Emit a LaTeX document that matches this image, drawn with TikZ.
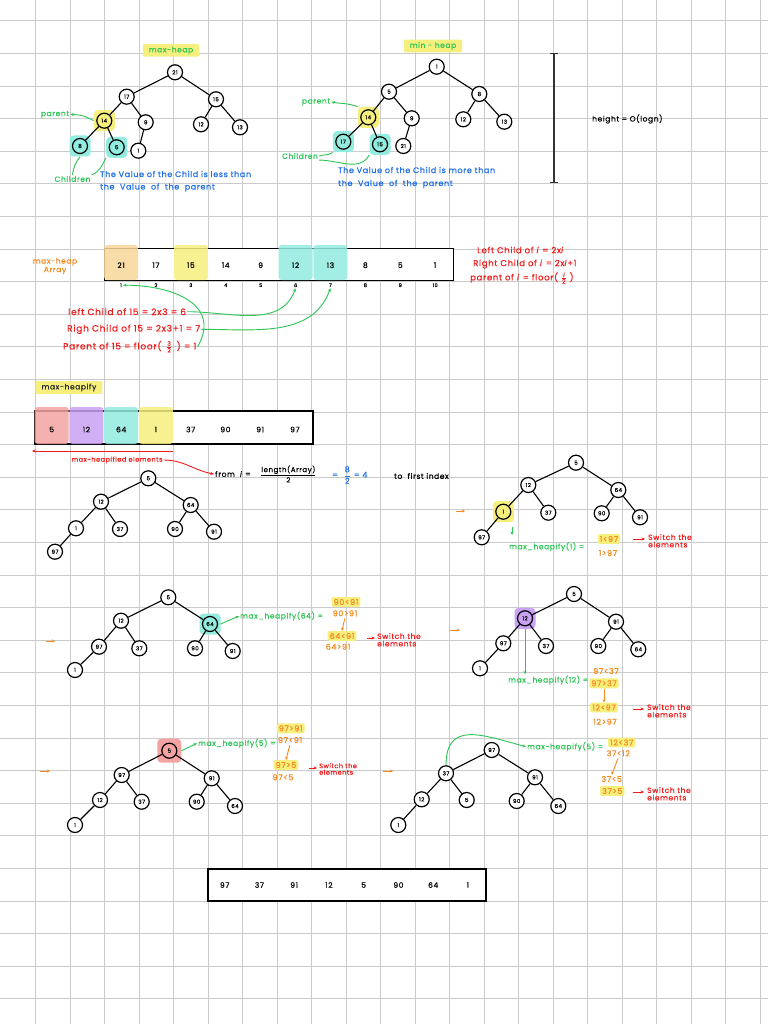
\documentclass[tikz,border=0pt]{standalone}
\usepackage{amsmath}
\usepackage{fontspec}
\setmainfont{Poppins}[LetterSpace=8, FakeBold=0.5]
\usepackage{tikz}
\usetikzlibrary{arrows.meta, positioning, calc, backgrounds}
\definecolor{hlyellow}{HTML}{F6EF7E}
\definecolor{hlcyan}{HTML}{93ECE0}
\definecolor{hlorange}{HTML}{F7D899}
\definecolor{hlred}{HTML}{F4A3A3}
\definecolor{hlpurple}{HTML}{C9A2F3}
\definecolor{greenpen}{HTML}{2BC653}
\definecolor{bluepen}{HTML}{1F6FEA}
\definecolor{redpen}{HTML}{F11B1B}
\definecolor{orangepen}{HTML}{F58A1F}
\definecolor{gridgray}{HTML}{CBCBCB}
\tikzset{
  every node/.style={font=\fontsize{7.5}{8.5}\selectfont, inner sep=1pt},
  gridline/.style={gridgray, line width=0.75pt},
  tn/.style={circle, draw, line width=1.2pt, fill=white, minimum size=15pt, inner sep=0pt, font=\fontsize{5.5}{5.5}\selectfont},
  glow/.style={fill=#1, rounded corners=4pt, minimum size=21pt, inner sep=0pt},
  link/.style={line width=1.1pt},
  arraybox/.style={draw, line width=1.4pt, fill=white, minimum height=32pt, inner sep=0pt},
  cellglow/.style={fill=#1, opacity=0.85, rounded corners=3pt, minimum width=34pt, minimum height=35pt, inner sep=0pt},
  cell/.style={font=\fontsize{7.5}{8}\selectfont},
  idx/.style={font=\fontsize{5}{5}\selectfont},
  tag/.style={fill=hlyellow, rounded corners=1pt, inner ysep=2.5pt, inner xsep=6pt},
  gtext/.style={text=greenpen},
  btext/.style={text=bluepen, font=\fontsize{8}{9}\selectfont, anchor=west},
  rtext/.style={text=redpen, font=\fontsize{9}{10}\selectfont, anchor=west},
  otext/.style={text=orangepen},
  cmp/.style={text=orangepen, font=\fontsize{8}{9}\selectfont},
  cmph/.style={cmp, fill=hlyellow, rounded corners=1.5pt, inner sep=2pt},
  swtext/.style={text=redpen, align=left, anchor=north west, font=\fontsize{7.5}{7.5}\selectfont},
  garrow/.style={-{Stealth[length=3.5pt,width=3pt]}, greenpen, line width=0.9pt},
  gline/.style={greenpen, line width=0.9pt},
  rarrow/.style={-{Stealth[length=3.5pt,width=3pt]}, redpen, line width=0.9pt},
  oarrow/.style={-{Stealth[length=3pt,width=3pt]}, orangepen, line width=0.9pt}
}

\begin{document}
\begin{tikzpicture}[x=1pt, y=-1pt]
    \useasboundingbox (0,0) rectangle (768,1024);
    \begin{scope}[on background layer]
      \fill[white] (0,0) rectangle (768,1024);
      \foreach \k in {1,...,22}
        \draw[gridline] ({1+34.5*\k},0) -- ({1+34.5*\k},1024);
      \foreach \k in {0,...,30}
        \draw[gridline] (0,{20.7+32.6*\k}) -- (768,{20.7+32.6*\k});
    \end{scope}

    % max-heap
    \node[tag, gtext] (maxlbl) at (171,50.5) {max-heap};
    \foreach \v/\x/\y/\col in {21/175/72.3/white, 17/126.7/96.7/white, 15/216/99.3/white, 14/104.3/120.7/hlyellow, 9/145.7/122.3/white, 12/201/124.3/white, 13/240/127.3/white, 8/80/146/hlcyan, 5/116.7/147.3/hlcyan, 1/138.3/150.7/white}
      \node[tn, fill=\col] (ta\v) at (\x,\y) {\v};
    \foreach \a/\b in {21/17, 21/15, 17/14, 17/9, 15/12, 15/13, 14/8, 14/5, 9/1}
      \draw[link] (ta\a) -- (ta\b);
    \begin{scope}[on background layer]
      \node[glow=hlyellow] (ta14g) at (ta14) {};
      \node[glow=hlcyan] (ta8g) at (ta8) {};
      \node[glow=hlcyan] (ta5g) at (ta5) {};
    \end{scope}
    \node[gtext] (parA) at (55,114.5) {parent};
    \node[gtext] (chA) at (72.5,179) {Children};
    \draw[garrow] (ta14g.west) to[bend right=15] (parA.east);
    \draw[gline] (chA.north) to[bend left=15] (ta8g.south);
    \draw[gline] (chA.north east) to[out=20, in=-120] (ta5g.south west);
    \node[btext] (lessA) at (99,174) {The Value of the Child is less than};
    \node[btext] (lessB) at (99,187.5) {the \ Value \ of \ the \ parent};

    % min-heap
    \node[tag, gtext] (minlbl) at (433,46) {min - heap};
    \foreach \v/\x/\y/\col in {1/436.7/66.7/white, 5/389/91.7/white, 8/479.3/94/white, 14/368.3/117.3/hlyellow, 9/411.7/118.3/white, 12/463.3/119.3/white, 13/504.3/121.7/white, 17/343.3/141.7/hlcyan, 15/380/144.3/hlcyan, 21/403.3/146/white}
      \node[tn, fill=\col] (tb\v) at (\x,\y) {\v};
    \foreach \a/\b in {1/5, 1/8, 5/14, 5/9, 8/12, 8/13, 14/17, 14/15, 9/21}
      \draw[link] (tb\a) -- (tb\b);
    \begin{scope}[on background layer]
      \node[glow=hlyellow] (tb14g) at (tb14) {};
      \node[glow=hlcyan] (tb17g) at (tb17) {};
      \node[glow=hlcyan] (tb15g) at (tb15) {};
    \end{scope}
    \node[gtext] (parB) at (316,102) {parent};
    \node[gtext] (chB) at (300,156) {Children};
    \draw[garrow] (tb14g.north west) to[out=160, in=-10] (parB.east);
    \draw[gline] (chB.east) to[out=20, in=-140] (tb17g.south west);
    \draw[gline] (chB.south east) to[out=0, in=-120] (tb15g.south west);
    \node[btext] (moreA) at (337,170) {The Value of the Child is more than};
    \node[btext] (moreB) at (337,184) {the \ Value \ of \ the \ parent};

    \coordinate (htop) at (554,52.7);
    \coordinate (hbot) at (554,183.3);
    \draw[{Bar[width=8pt]}-{Bar[width=8pt]}, line width=1.3pt, black!80] (htop) -- (hbot);
    \node[anchor=west] (hlabel) at (591,119) {height = O(logn)};

    % heap as array
    \node[otext, align=center] (arrlbl) at (55,266) {max-heap\\Array};
    \begin{scope}[on background layer]
      \node[arraybox, minimum width=349pt] (heaparr) at (278.8,264.2) {};
    \end{scope}
    \foreach \v [count=\i] in {21,17,15,14,9,12,13,8,5,1} {
      \node[cell] (heap\i) at ($(heaparr.west)+({34.9*\i-17.45},1)$) {\v};
      \node[idx] (hidx\i) at ($(heap\i)+(0,20)$) {\i};
    }
    \begin{scope}[on background layer]
      \foreach \i/\col in {1/hlorange, 3/hlyellow, 6/hlcyan, 7/hlcyan}
        \node[cellglow=\col] at ($(heap\i)+(0,-2.7)$) {};
    \end{scope}
    \node[rtext] (lc) at (67,311.7) {left Child of 15 = 2x3 = 6};
    \node[rtext] (rc) at (66,329.3) {Righ Child of 15 = 2x3+1 = 7};
    \node[rtext] (pc) at (62,346.7) {Parent of 15 = floor( \,$\frac{\text{3}}{\text{2}}$\, ) = 1};
    \draw[garrow] (lc.east) to[out=0, in=-110] (hidx6.south);
    \draw[garrow] (rc.east) to[out=0, in=-110] (hidx7.south);
    \draw[garrow] (pc.east) to[out=60, in=0, looseness=1.3] (hidx1.east);
    \node[rtext, font=\fontsize{8.5}{9.5}\selectfont] (flc) at (476,250) {Left Child of \textit{i} = 2x\textit{i}};
    \node[rtext, font=\fontsize{8.5}{9.5}\selectfont] (frc) at (472,264) {Right Child of \textit{i} = 2x\textit{i}+1};
    \node[rtext, font=\fontsize{8.5}{9.5}\selectfont] (fpc) at (469,278) {parent of \textit{i} = floor( $\frac{\textit{i}}{\text{2}}$ )};

    % max-heapify array
    \node[tag, text=black!85] (mhlbl) at (69,387.5) {max-heapify};
    \begin{scope}[on background layer]
      \node[arraybox, minimum width=278pt, minimum height=33pt] (inarr) at (174,427.5) {};
    \end{scope}
    \foreach \v [count=\i] in {5,12,64,1,37,90,91,97}
      \node[cell] (in\i) at ($(inarr.west)+({34.75*\i-17.375},2)$) {\v};
    \begin{scope}[on background layer]
      \foreach \i/\col in {1/hlred, 2/hlpurple, 3/hlcyan, 4/hlyellow}
        \node[cellglow=\col, minimum height=37pt] at ($(inarr.west)+({34.75*\i-17.375},-2)$) {};
    \end{scope}
    \coordinate (mhR) at (173,451);
    \coordinate (mhL) at (32,451);
    \draw[rarrow] (mhR) -- (mhL);
    \node[text=redpen, font=\fontsize{6.5}{7}\selectfont] (mhtxt) at (117,460) {max-heapified elements};
    \node[anchor=west, font=\fontsize{7.5}{8}\selectfont] (fromtxt) at (214,474) {from \ \textit{i} =};
    \node[anchor=west, font=\fontsize{7}{8}\selectfont] (fracA) at (259,474) {$\dfrac{\text{length(Array)}}{\text{2}}$};
    \node[anchor=west, text=bluepen, font=\fontsize{8}{9}\selectfont] (fracB) at (331,475) {= \ $\dfrac{\text{8}}{\text{2}}$ = 4};
    \node[anchor=west, font=\fontsize{7.5}{8}\selectfont] (firstidx) at (393,476) {to \ first index};
    \draw[rarrow] (mhtxt.east) to[out=0, in=170] (fromtxt.west);

    % tree of the array
    \foreach \v/\x/\y in {5/148.3/478.3, 12/101/501.7, 64/190.7/505, 1/76/528.3, 37/120/529, 90/175/529, 91/214/531.7, 97/55/551.7}
      \node[tn] (tc\v) at (\x,\y) {\v};
    \foreach \a/\b in {5/12, 5/64, 12/1, 12/37, 64/90, 64/91, 1/97}
      \draw[link] (tc\a) -- (tc\b);

    % max_heapify(1)
    \foreach \v/\x/\y/\col in {5/576/462.7/white, 12/528.3/485/white, 64/618.3/490/white, 1/503.3/511.7/hlyellow, 37/548.3/512.7/white, 90/601.7/513.3/white, 91/640/517.3/white, 97/481.7/537.3/white}
      \node[tn, fill=\col] (td\v) at (\x,\y) {\v};
    \foreach \a/\b in {5/12, 5/64, 12/1, 12/37, 64/90, 64/91, 1/97}
      \draw[link] (td\a) -- (td\b);
    \begin{scope}[on background layer]
      \node[glow=hlyellow] (td1g) at (td1) {};
    \end{scope}
    \coordinate (oa1) at (456,511);
    \draw[oarrow] (oa1) -- ++(9,0);
    \coordinate (td1arr) at (512,527);
    \draw[garrow] (td1arr) -- ++(0,8);
    \node[gtext, anchor=west] (mh1) at (508,546.7) {max\_heapify(1) =};
    \node[cmph] (d1) at (609,539) {1<97};
    \node[cmp] (d2) at (608,553) {1>97};
    \node[swtext] (swd) at (647,533) {Switch the\\elements};
    \draw[rarrow] ($(swd.north west)+(-14,6)$) -- ($(swd.north west)+(-2,6)$);

    % max_heapify(64)
    \foreach \v/\x/\y/\col in {5/168.3/597.3/white, 12/121/620.7/white, 64/210/624/hlcyan, 97/99/646.7/white, 37/139.3/648.3/white, 90/195/648.3/white, 91/232.7/651/white, 1/75/670/white}
      \node[tn, fill=\col] (te\v) at (\x,\y) {\v};
    \foreach \a/\b in {5/12, 5/64, 12/97, 12/37, 64/90, 64/91, 97/1}
      \draw[link] (te\a) -- (te\b);
    \begin{scope}[on background layer]
      \node[glow=hlcyan] (te64g) at (te64) {};
    \end{scope}
    \coordinate (oa2) at (46,641);
    \draw[oarrow] (oa2) -- ++(9,0);
    \node[gtext, anchor=west] (mh64) at (239,616) {max\_heapify(64) =};
    \draw[garrow] (te64g.east) -- (mh64.west);
    \node[cmph] (e1) at (346,602) {90<91};
    \node[cmp] (e2) at (345,613.3) {90>91};
    \node[cmph] (e3) at (342,636) {64<91};
    \node[cmp] (e4) at (338,646.7) {64>91};
    \draw[oarrow, shorten <=1pt] (e2.south) -- (e3.north);
    \node[swtext] (swe) at (376,632) {Switch the\\elements};
    \draw[rarrow] ($(swe.north west)+(-9,6)$) -- ($(swe.north west)+(-1,6)$);
    \coordinate (oa3) at (450,630);
    \draw[oarrow] (oa3) -- ++(10,0);

    % max_heapify(12)
    \foreach \v/\x/\y/\col in {5/574/594/white, 12/525/618.3/hlpurple, 91/616/621.7/white, 97/503.3/643.3/white, 37/546/646/white, 90/598.3/646/white, 64/638.3/649.3/white, 1/480/668.3/white}
      \node[tn, fill=\col] (tf\v) at (\x,\y) {\v};
    \foreach \a/\b in {5/12, 5/91, 12/97, 12/37, 91/90, 91/64, 97/1}
      \draw[link] (tf\a) -- (tf\b);
    \begin{scope}[on background layer]
      \node[glow=hlpurple] (tf12g) at (tf12) {};
    \end{scope}
    \node[gtext, anchor=west] (mh12) at (507,680) {max\_heapify(12) =};
    \draw[garrow] (tf12g.south) -- (tf12g.south |- mh12.north);
    \node[cmp] (f1) at (606,671) {97<37};
    \node[cmph] (f2) at (604,683.3) {97>37};
    \node[cmph] (f3) at (604,707.5) {12<97};
    \node[cmp] (f4) at (605,721.7) {12>97};
    \draw[oarrow, shorten <=1pt] (f2.south) -- (f3.north);
    \node[swtext] (swf) at (646,703) {Switch the\\elements};
    \draw[rarrow] ($(swf.north west)+(-13,6)$) -- ($(swf.north west)+(-2,6)$);

    % max_heapify(5)
    \foreach \v/\x/\y/\col in {5/169.3/750.7/hlred, 97/121.7/775/white, 91/211.7/778.3/white, 12/100/800/white, 37/141.7/801.7/white, 90/196.7/801.7/white, 64/235/806/white, 1/75/825/white}
      \node[tn, fill=\col] (tg\v) at (\x,\y) {\v};
    \foreach \a/\b in {5/97, 5/91, 97/12, 97/37, 91/90, 91/64, 12/1}
      \draw[link] (tg\a) -- (tg\b);
    \begin{scope}[on background layer]
      \node[glow=hlred, minimum size=24pt] (tg5g) at (tg5) {};
    \end{scope}
    \coordinate (oa4) at (40,771);
    \draw[oarrow] (oa4) -- ++(10,0);
    \node[gtext, anchor=west] (mh5a) at (197,743.3) {max\_heapify(5) =};
    \draw[garrow] (tg5g.east) -- (mh5a.west);
    \node[cmph] (g1) at (290.7,728.3) {97>91};
    \node[cmp] (g2) at (290,740) {97<91};
    \node[cmph] (g3) at (286,765) {97>5};
    \node[cmp] (g4) at (283,777.3) {97<5};
    \draw[oarrow, shorten <=1pt] (g2.south) -- (g3.north);
    \node[swtext, font=\fontsize{6.5}{6.5}\selectfont] (swg) at (318,762) {Switch the\\elements};
    \draw[rarrow] ($(swg.north west)+(-9,6)$) -- ($(swg.north west)+(-1,6)$);
    \coordinate (oa5) at (383,771);
    \draw[oarrow] (oa5) -- ++(10,0);

    % max_heapify(5) again
    \foreach \v/\x/\y in {97/491.7/750, 37/446/773.3, 91/535/777.3, 12/421.7/799.3, 5/466.7/800, 90/516.7/801, 64/558.3/806, 1/398.3/825}
      \node[tn] (th\v) at (\x,\y) {\v};
    \foreach \a/\b in {97/37, 97/91, 37/12, 37/5, 91/90, 91/64, 12/1}
      \draw[link] (th\a) -- (th\b);
    \node[gtext, anchor=west] (mh5b) at (526,746.7) {max-heapify(5) =};
    \draw[garrow] (th37.north) to[out=90, in=165, looseness=1.4] (mh5b.west);
    \node[cmph] (h1) at (621.7,742.5) {12<37};
    \node[cmp] (h2) at (618.3,753.3) {37<12};
    \node[cmp] (h3) at (611.7,779) {37<5};
    \node[cmph] (h4) at (612.3,791) {37>5};
    \draw[oarrow, shorten <=1pt] (h2.south) -- (h3.north);
    \node[swtext] (swh) at (646,786) {Switch the\\elements};
    \draw[rarrow] ($(swh.north west)+(-13,6)$) -- ($(swh.north west)+(-2,6)$);

    % result
    \begin{scope}[on background layer]
      \node[arraybox, minimum width=278pt] (outarr) at (347,885) {};
    \end{scope}
    \foreach \v [count=\i] in {97,37,91,12,5,90,64,1}
      \node[cell] (out\i) at ($(outarr.west)+({34.75*\i-17.375},0)$) {\v};
\end{tikzpicture}
\end{document}
